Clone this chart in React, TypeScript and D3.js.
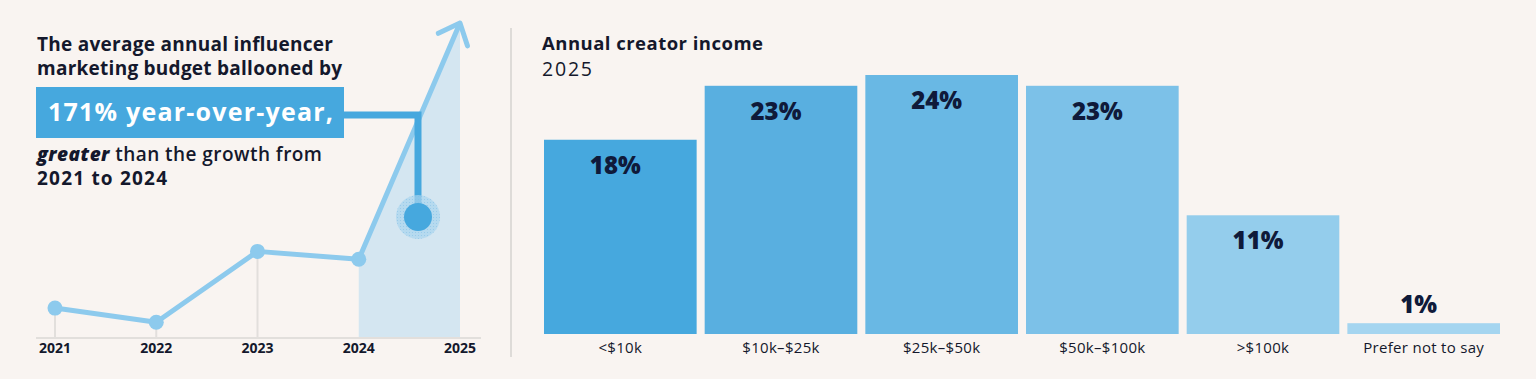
import React from "react";
import * as d3 from "d3";

const years = ["2021", "2022", "2023", "2024", "2025"];
const budgetIndex = [9.5, 5, 27.5, 25, 100];

const incomeCategories = ["<$10k", "$10k–$25k", "$25k–$50k", "$50k–$100k", ">$100k", "Prefer not to say"];
const incomeShares = [18, 23, 24, 23, 11, 1];
const barColors = ["#46a8de", "#59afe0", "#69b8e4", "#7cc1e8", "#94cdec", "#a5d5f0"];

const W = 1536;
const H = 379;
const BG = "#f9f4f1";
const INK = "#14182c";
const FONT = "'Open Sans', Lato, sans-serif";

export default function App() {
  const x = d3.scalePoint<string>().domain(years).range([55, 460]);
  const y = d3.scaleLinear().domain([0, 100]).range([338, 23]);
  const pts = years.map((yr, i) => [x(yr) as number, y(budgetIndex[i])] as [number, number]);
  const line = d3.line<[number, number]>().x((d) => d[0]).y((d) => d[1]);
  const area = d3
    .area<[number, number]>()
    .x((d) => d[0])
    .y0(y(0))
    .y1((d) => d[1]);
  const areaPath = area(pts.slice(3)) as string;
  const tip = pts[4];
  const prev = pts[3];
  const ang = Math.atan2(tip[1] - prev[1], tip[0] - prev[0]);
  const headLen = 24;
  const spread = 0.72;
  const h1: [number, number] = [tip[0] - headLen * Math.cos(ang - spread), tip[1] - headLen * Math.sin(ang - spread)];
  const h2: [number, number] = [tip[0] - headLen * Math.cos(ang + spread), tip[1] - headLen * Math.sin(ang + spread)];

  const xb = d3.scaleBand<string>().domain(incomeCategories).range([544, 1500]).paddingInner(0.05);
  const yb = d3.scaleLinear().domain([0, 24]).range([334, 75]);

  const connX = 418;
  const connY = 115;
  const dotY = 217;

  return (
    <svg width={W} height={H} style={{ position: "absolute", left: 0, top: 0, display: "block" }} fontFamily={FONT}>
      <defs>
        <pattern id="dots" width="3" height="3" patternUnits="userSpaceOnUse">
          <circle cx="1.5" cy="1.5" r="0.6" fill="#7fbde6" />
        </pattern>
      </defs>
      <rect x={0} y={0} width={W} height={H} fill={BG} />

      {/* ---- Left panel ---- */}
      <g>
        <path d={areaPath} fill="#d4e6f1" />
        <line x1={36} x2={481} y1={y(0)} y2={y(0)} stroke="#e2dfdc" strokeWidth={2} />
        {pts.slice(0, 3).map((p, i) => (
          <line key={i} x1={p[0]} x2={p[0]} y1={p[1]} y2={y(0)} stroke="#e2dfdc" strokeWidth={2} />
        ))}
        <path d={line(pts) as string} fill="none" stroke="#8dcaed" strokeWidth={5} strokeLinejoin="round" />
        <path
          d={`M${h1[0]},${h1[1]}L${tip[0]},${tip[1]}L${h2[0]},${h2[1]}`}
          fill="none"
          stroke="#8dcaed"
          strokeWidth={5}
          strokeLinecap="round"
          strokeLinejoin="round"
        />
        {pts.slice(0, 4).map((p, i) => (
          <circle key={i} cx={p[0]} cy={p[1]} r={7.5} fill="#8dcaed" />
        ))}
        {years.map((yr) => (
          <text key={yr} x={x(yr)} y={353} textAnchor="middle" fontSize={14} fontWeight={700} fill={INK}>
            {yr}
          </text>
        ))}

        <path d={`M343,${connY}H${connX}V${dotY}`} fill="none" stroke="#46a8de" strokeWidth={7} />
        <circle cx={connX} cy={dotY} r={22} fill="#a9d4ee" opacity={0.7} />
        <circle cx={connX} cy={dotY} r={22} fill="url(#dots)" opacity={0.6} />
        <circle cx={connX} cy={dotY} r={14} fill="#46a8de" />

        <text x={37} y={51} fontSize={19} fontWeight={700} fill={INK} textLength={296} lengthAdjust="spacing">
          The average annual influencer
        </text>
        <text x={37} y={75} fontSize={19} fontWeight={700} fill={INK} textLength={305} lengthAdjust="spacing">
          marketing budget ballooned by
        </text>
        <rect x={36} y={87} width={308} height={51} fill="#46a8de" />
        <text x={48} y={121} fontSize={25} fontWeight={700} fill="#ffffff" textLength={285} lengthAdjust="spacing">
          171% year-over-year,
        </text>
        <text x={37} y={161} fontSize={19} fontWeight={600} fill={INK} textLength={285} lengthAdjust="spacing">
          <tspan fontStyle="italic" fontWeight={800}>greater</tspan>
          <tspan> than the growth from</tspan>
        </text>
        <text x={37} y={185} fontSize={19} fontWeight={700} fill={INK} textLength={130} lengthAdjust="spacing">
          2021 to 2024
        </text>
      </g>

      <line x1={511} x2={511} y1={28} y2={357} stroke="#dedbd8" strokeWidth={2} />

      {/* ---- Right panel ---- */}
      <g>
        <text x={542} y={50} fontSize={18.5} fontWeight={700} fill={INK} textLength={221} lengthAdjust="spacing">
          Annual creator income
        </text>
        <text x={542} y={75.5} fontSize={19.5} fontWeight={400} fill={INK} textLength={50} lengthAdjust="spacing">
          2025
        </text>
        {incomeCategories.map((c, i) => {
          const bx = xb(c) as number;
          const bw = xb.bandwidth();
          const top = yb(incomeShares[i]);
          const inside = incomeShares[i] >= 5;
          return (
            <g key={c}>
              <rect x={bx} y={top} width={bw} height={yb(0) - top} fill={barColors[i]} />
              <text
                x={bx + bw / 2 - 5}
                y={inside ? top + 34 : top - 10}
                textAnchor="middle"
                fontSize={24}
                fontWeight={800}
                fill="#0f1a3a"
              >
                {incomeShares[i]}%
              </text>
              <text
                x={bx + bw / 2}
                y={353}
                textAnchor="middle"
                fontSize={15}
                fontWeight={400}
                letterSpacing={0.3}
                fill={INK}
              >
                {c}
              </text>
            </g>
          );
        })}
      </g>
    </svg>
  );
}
